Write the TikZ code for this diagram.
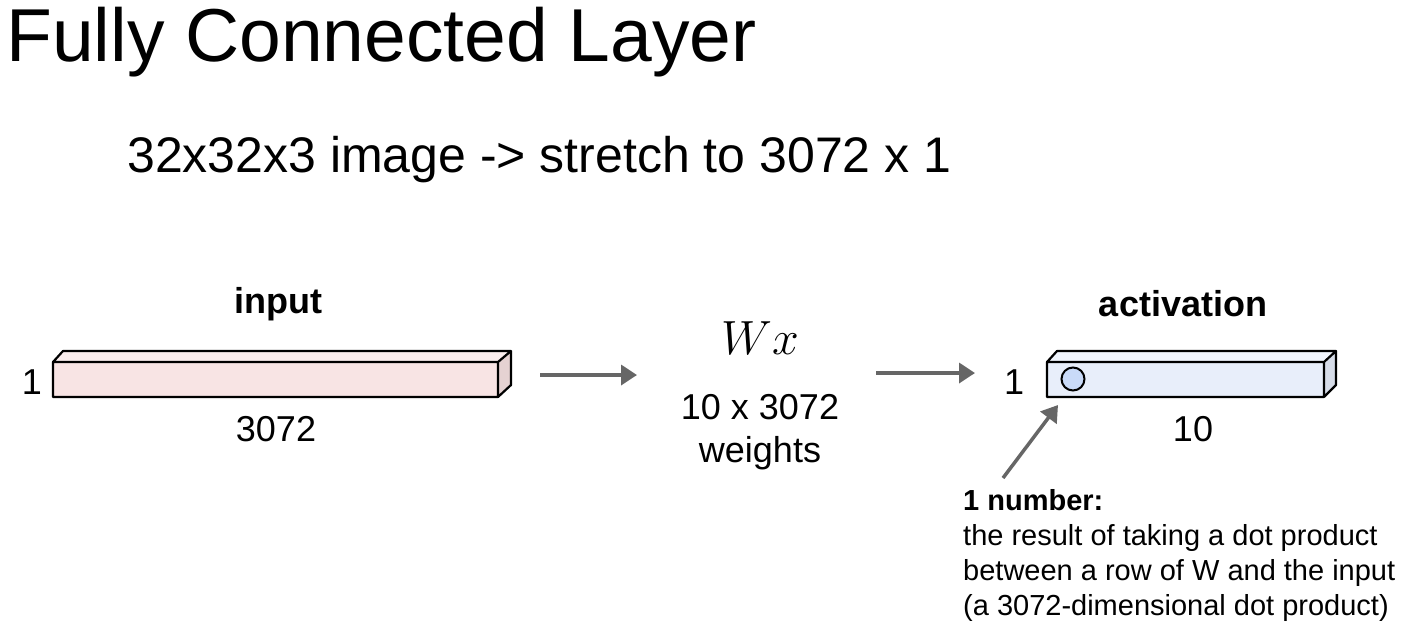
\RequirePackage{fix-cm}
\documentclass[tikz,border=0pt]{standalone}
\usepackage{fontspec}
\setmainfont{Liberation Sans}
\usetikzlibrary{arrows.meta}
\definecolor{pinkf}{HTML}{F8E4E4}
\definecolor{pinkt}{HTML}{FAEDED}
\definecolor{pinks}{HTML}{E5D2D2}
\definecolor{bluef}{HTML}{E8EEFA}
\definecolor{bluet}{HTML}{F0F4FC}
\definecolor{blues}{HTML}{D6DCE8}
\definecolor{bluec}{HTML}{C9DAF8}
\begin{document}
\begin{tikzpicture}[x=1pt,y=-1pt,
  bar/.style={draw=black,line width=2.2pt,line join=round},
  conn/.style={draw=black!60,line width=3.5pt,-{Triangle[length=16pt,width=20pt]}},
  lbl/.style={inner sep=0pt,font=\fontsize{36}{42}\selectfont}]
\useasboundingbox (0,0) rectangle (1416,633);
\node[anchor=west,inner sep=0pt,font=\fontsize{75}{80}\selectfont] (title) at (6,42) {Fully Connected Layer};
\node[anchor=west,inner sep=0pt,font=\fontsize{50}{56}\selectfont] (sub) at (127,160) {32x32x3 image -> stretch to 3072 x 1};
% input bar
\fill[pinkf] (53,362) rectangle (498,397);
\fill[pinkt] (53,362) -- (63,351) -- (511,351) -- (498,362) -- cycle;
\fill[pinks] (498,362) -- (511,351) -- (511,385) -- (498,397) -- cycle;
\draw[bar] (53,362) rectangle (498,397) (53,362) -- (63,351) -- (511,351) -- (498,362) (511,351) -- (511,385) -- (498,397);
% activation bar
\fill[bluef] (1047,362) rectangle (1324,397);
\fill[bluet] (1047,362) -- (1057,351) -- (1336,351) -- (1324,362) -- cycle;
\fill[blues] (1324,362) -- (1336,351) -- (1336,385) -- (1324,397) -- cycle;
\draw[bar] (1047,362) rectangle (1324,397) (1047,362) -- (1057,351) -- (1336,351) -- (1324,362) (1336,351) -- (1336,385) -- (1324,397);
\node[circle,draw=black,line width=2pt,fill=bluec,minimum size=23pt,inner sep=0pt] (c) at (1073,379) {};
\node[lbl,font=\bfseries\fontsize{36}{42}\selectfont] (inp) at (278,304) {input};
\node[lbl] (one1) at (32,382) {1};
\node[lbl] (n3072) at (276,429) {3072};
\node[inner sep=0pt,font=\fontsize{48}{54}\selectfont] (wx) at (760,338) {$Wx$};
\node[lbl] (w1) at (760,407) {10 x 3072};
\node[lbl] (w2) at (760,453) {weights};
\node[lbl,font=\bfseries\fontsize{36}{42}\selectfont] (act) at (1183,304) {activation};
\node[lbl] (one2) at (1014,382) {1};
\node[lbl] (n10) at (1193,429) {10};
\node[anchor=north west,inner sep=0pt,align=left,font=\fontsize{29}{35}\selectfont] (note) at (963,489)
 {\textbf{1 number:}\\the result of taking a dot product\\between a row of W and the input\\(a 3072-dimensional dot product)};
\coordinate (a1s) at (540,375); \coordinate (a1e) at (637,375);
\coordinate (a2s) at (876,373); \coordinate (a2e) at (975,373);
\coordinate (a3s) at (1003,478); \coordinate (a3e) at (1058,405);
\draw[conn] (a1s) -- (a1e);
\draw[conn] (a2s) -- (a2e);
\draw[conn] (a3s) -- (a3e);
\end{tikzpicture}
\end{document}
